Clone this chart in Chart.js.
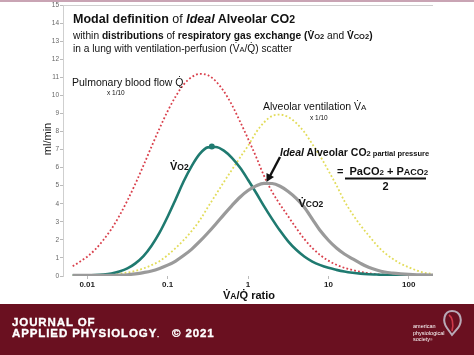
<!DOCTYPE html>
<html><head><meta charset="utf-8">
<script src="https://cdn.jsdelivr.net/npm/chart.js@4"></script>
<style>
html,body{margin:0;padding:0;background:#fff;}
#wrap{position:relative;width:474px;height:355px;overflow:hidden;font-family:"Liberation Sans",Arial,Helvetica,sans-serif;color:#111;}
#cv{position:absolute;left:0;top:0;}
.t{position:absolute;white-space:nowrap;line-height:1;}
.b{font-weight:bold;}
.i{font-style:italic;}
#strip{position:absolute;left:0;top:0;width:474px;height:2px;background:#c9a4b4;}
#banner{position:absolute;left:0;top:304px;width:474px;height:51px;background:#6a1020;}
#banner .t{color:#fff;}
#banner .j{font-size:11.5px;letter-spacing:0.9px;-webkit-text-stroke:0.35px #fff;}
svg{position:absolute;left:0;top:0;}
</style>
</head><body>
<div id="wrap">
<canvas id="cv" width="474" height="304"></canvas>
<div id="strip"></div>

<div class="t b" style="left:73px;top:12.8px;font-size:12.5px;">Modal definition <span style="font-weight:normal">of</span> <span class="i">Ideal</span> Alveolar CO<span style="font-size:10.5px">2</span></div>
<div class="t" style="left:73px;top:30.7px;font-size:10.2px;">within <span class="b">distributions</span> of <span class="b">respiratory gas exchange (V̇<span style="font-size:7.5px">O2</span></span> and <span class="b">V̇<span style="font-size:7.5px">CO2</span>)</span></div>
<div class="t" style="left:73px;top:43.7px;font-size:10.2px;">in a lung with ventilation-perfusion (V̇<span style="font-size:7.5px">A</span>/Q̇) scatter</div>

<div class="t" style="left:72px;top:77px;font-size:10.5px;">Pulmonary blood flow Q̇</div>
<div class="t" style="left:107px;top:89.5px;font-size:6.5px;">x 1/10</div>
<div class="t" style="left:263px;top:101px;font-size:10.5px;">Alveolar ventilation V̇<span style="font-size:8px">A</span></div>
<div class="t" style="left:310px;top:114.5px;font-size:6.5px;">x 1/10</div>

<div class="t b" style="left:170px;top:160.5px;font-size:11px;">V̇<span style="font-size:8.5px">O2</span></div>
<div class="t b" style="left:280px;top:147px;font-size:10.5px;"><span class="i">Ideal</span> Alveolar CO<span style="font-size:7.5px">2 partial pressure</span></div>
<div class="t b" style="left:337px;top:165.5px;font-size:11px;">= &nbsp;Pa<span>CO</span><span style="font-size:8px">2</span> + P<span style="font-size:9px">ACO</span><span style="font-size:8px">2</span></div>
<div class="t b" style="left:382.5px;top:180.5px;font-size:11px;">2</div>
<div class="t b" style="left:298.5px;top:197.5px;font-size:11px;">V̇<span style="font-size:8.5px">CO2</span></div>

<div class="t b" style="left:223px;top:290px;font-size:11px;">V̇<span style="font-size:8.5px">A</span>/Q̇ ratio</div>
<div class="t" style="left:46.5px;top:139px;font-size:11px;transform:translate(-50%,-50%) rotate(-90deg);">ml/min</div>

<svg width="474" height="303">
  <line x1="345" y1="178.5" x2="426" y2="178.5" stroke="#111" stroke-width="1.8"/>
  <line x1="280" y1="157" x2="270" y2="176" stroke="#111" stroke-width="2.4"/>
  <polygon points="266.5,182 266.5,173 274,177" fill="#111"/>
</svg>

<div id="banner">
  <div class="t b j" style="left:12px;top:13.3px;">JOURNAL OF</div>
  <div class="t b j" style="left:12px;top:24.3px;">APPLIED PHYSIOLOGY<span style="font-size:6px">.</span></div>
  <div class="t b j" style="left:172px;top:24.3px;">© 2021</div>
  <div class="t" style="left:413px;top:20px;font-size:5.5px;">american</div>
  <div class="t" style="left:413px;top:26.5px;font-size:5.5px;">physiological</div>
  <div class="t" style="left:413px;top:33px;font-size:5.5px;">society<span style="font-size:3px">®</span></div>
  <svg width="474" height="51">
    <path d="M452,7 C444,7 442,17 447,24 L452,31 L458,24 C463,17 461,7 452,7 Z" fill="none" stroke="#b9a9b6" stroke-width="2"/>
    <path d="M449,11 C452,13 454,19 452,27" fill="none" stroke="#d03a4a" stroke-width="1.6"/>
  </svg>
</div>
</div>

<script>
// V̇A/Q̇ ratio sample positions (log spaced along the x axis)
const ratios = [0.0066,0.0079,0.01,0.0126,0.0158,0.02,0.0251,0.0316,0.0398,0.0501,0.0631,0.0794,
  0.1,0.126,0.158,0.2,0.251,0.316,0.398,0.501,0.631,0.794,
  1,1.26,1.58,2,2.51,3.16,3.98,5.01,6.31,7.94,
  10,12.6,15.8,20,25.1,31.6,39.8,50.1,63.1,79.4,
  100,126,158,200];

// Pulmonary blood flow Q (x 1/10), ml/min
const bloodFlowQ = [0.54,0.76,1.07,1.47,1.98,2.6,3.33,4.18,5.11,6.12,7.16,8.17,
  9.12,9.94,10.59,11.01,11.19,11.12,10.78,10.22,9.47,8.56,
  7.6,6.6,5.55,4.65,3.95,3.3,2.65,2.05,1.55,1.15,
  0.85,0.62,0.45,0.33,0.23,0.15,0.1,0.07,0.05,0.04,
  0.04,0.03,0.03,0.03];

// Alveolar ventilation VA (x 1/10), ml/min
const ventilationVA = [0.04,0.04,0.05,0.06,0.07,0.09,0.13,0.19,0.28,0.42,0.6,0.82,
  1.15,1.55,1.98,2.5,3.08,3.8,4.5,5.2,5.88,6.55,
  7.2,7.95,8.5,8.86,8.93,8.8,8.47,7.97,7.3,6.62,
  5.83,5.02,4.15,3.42,2.8,2.25,1.72,1.28,0.95,0.68,
  0.48,0.3,0.18,0.1];

// VO2, ml/min
const vo2 = [0.04,0.04,0.04,0.05,0.08,0.14,0.25,0.42,0.7,1.1,1.68,2.4,
  3.28,4.25,5.23,6.1,6.76,7.12,7.14,6.94,6.54,6.0,
  5.33,4.61,3.87,3.15,2.5,1.92,1.45,1.08,0.8,0.6,
  0.45,0.34,0.25,0.18,0.13,0.1,0.08,0.06,0.05,0.05,
  0.04,0.04,0.04,0.04];

// VCO2, ml/min
const vco2 = [0.03,0.03,0.03,0.03,0.04,0.04,0.05,0.07,0.12,0.19,0.28,0.42,
  0.6,0.83,1.13,1.49,1.91,2.38,2.88,3.4,3.9,4.36,
  4.73,4.99,5.13,5.12,4.97,4.68,4.3,3.8,3.15,2.5,
  1.98,1.55,1.22,0.95,0.7,0.48,0.33,0.22,0.16,0.12,
  0.09,0.07,0.06,0.05];

// modal VO2 point
const vo2PeakX = [0.355];
const vo2PeakY = [7.17];

const xTickValues = [0.01, 0.1, 1, 10, 100];
const xTickLabels = ['0.01', '0.1', '1', '10', '100'];
const yTickMin = 0, yTickMax = 15, yTickStep = 1;

const pts = arr => ratios.map((x, i) => ({x: x, y: arr[i]}));

const topBorder = {
  id: 'topBorder',
  afterDraw(chart) {
    const a = chart.chartArea, c = chart.ctx;
    c.save();
    c.strokeStyle = '#cfcfcf';
    c.lineWidth = 1;
    c.beginPath();
    c.moveTo(a.left, a.top + 0.5);
    c.lineTo(a.right, a.top + 0.5);
    c.stroke();
    c.restore();
  }
};

new Chart(document.getElementById('cv'), {
  type: 'line',
  data: {
    datasets: [
      {label: 'VO2 peak', type: 'scatter', data: vo2PeakX.map((x, i) => ({x: x, y: vo2PeakY[i]})),
       pointRadius: 3, pointBackgroundColor: '#1f7a70', pointBorderWidth: 0, order: 0},
      {label: 'VCO2', data: pts(vco2), borderColor: '#9a9a9a', borderWidth: 3.2,
       pointRadius: 0, cubicInterpolationMode: 'monotone', order: 1},
      {label: 'VO2', data: pts(vo2), borderColor: '#1f7a70', borderWidth: 2.6,
       pointRadius: 0, cubicInterpolationMode: 'monotone', order: 2},
      {label: 'VA', data: pts(ventilationVA), borderColor: '#e2dc5a', borderWidth: 1.8,
       borderDash: [1.8, 2.2], pointRadius: 0, cubicInterpolationMode: 'monotone', order: 3},
      {label: 'Q', data: pts(bloodFlowQ), borderColor: '#d9404c', borderWidth: 1.8,
       borderDash: [1.8, 2.2], pointRadius: 0, cubicInterpolationMode: 'monotone', order: 4}
    ]
  },
  options: {
    responsive: false,
    devicePixelRatio: 1,
    animation: false,
    layout: {padding: {top: 5, right: 41, left: 0, bottom: 0}},
    plugins: {legend: {display: false}, tooltip: {enabled: false}},
    scales: {
      x: {
        type: 'logarithmic', min: 0.005, max: 200,
        afterBuildTicks: s => { s.ticks = xTickValues.map(v => ({value: v})); },
        afterFit: s => { s.height = 28; },
        ticks: {
          autoSkip: false, maxRotation: 0, padding: 1,
          color: '#222', font: {family: 'Liberation Sans, Arial', size: 8, weight: 'bold'},
          callback: (v, i) => xTickLabels[i]
        },
        grid: {drawOnChartArea: false, drawTicks: true, tickLength: 3, color: '#bbb'},
        border: {display: false}
      },
      y: {
        min: yTickMin, max: yTickMax,
        afterFit: s => { s.width = 63; },
        ticks: {stepSize: yTickStep, padding: 1, color: '#666',
          font: {family: 'Liberation Sans, Arial', size: 6.5}},
        grid: {drawOnChartArea: false, drawTicks: true, tickLength: 3, color: '#bbb'},
        border: {display: true, color: '#cfcfcf', width: 1}
      }
    }
  },
  plugins: [topBorder]
});
</script>
</body></html>
